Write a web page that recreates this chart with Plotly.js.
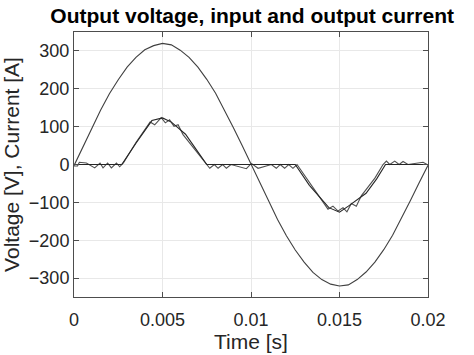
<!DOCTYPE html>
<html>
<head>
<meta charset="utf-8">
<script src="https://cdn.plot.ly/plotly-3.0.1.min.js"></script>
<style>html,body{margin:0;padding:0;background:#fff;}#chart{width:474px;height:355px;}</style>
</head>
<body>
<div id="chart"></div>
<script>
// Output voltage
const tV = [0,0.0005,0.001,0.0015,0.002,0.0025,0.003,0.0035,0.004,0.0045,0.005,0.0055,0.006,0.0065,0.007,0.0075,0.008,0.0085,0.009,0.0095,0.01,
            0.0105,0.011,0.0115,0.012,0.0125,0.013,0.0135,0.014,0.0145,0.015,0.0155,0.016,0.0165,0.017,0.0175,0.018,0.0185,0.019,0.0195,0.02];
const vOut = [-3,46,96,143,187,224,257,283,303,314,320,316,302,283,257,225,188,145,98,50,2,
              -47,-97,-145,-188,-226,-258,-285,-304,-316,-321,-318,-304,-284,-258,-225,-187,-143,-96,-48,-2];

// Input current (with ripple)
const tIin = [0,0.0002,0.0003,0.0007,0.00117,0.00147,0.00164,0.0019,0.00211,0.0024,0.00258,0.0028,
              0.0035,0.0043,0.00456,0.00493,0.00516,0.0054,0.00565,0.00588,0.00616,0.0069,0.0075,
              0.00767,0.00793,0.00814,0.0084,0.00861,0.00887,0.00974,0.01002,0.0104,0.01115,
              0.01143,0.01165,0.0119,0.01213,0.01237,0.0126,
              0.0135,0.01435,0.01463,0.01492,0.0152,0.01542,0.01567,0.01595,0.01624,0.0170,0.01746,
              0.01765,0.01784,0.01812,0.01837,0.01859,0.01887,0.01972,0.01995,0.02];
const iIn = [-4,-4,6,4,-9,4,-9,4,-9,4,-6,5,
             58,112,105,124,110,118,101,105,79,36,-2,
             -10,0,-10,0,-10,0,-11,3,-10,0,
             -10,0,-10,0,-10,0,
             -60,-118,-110,-123,-114,-125,-103,-110,-82,-36,0,
             9,0,9,0,8,0,6,0,0];

// Output current
const tIout = [0,0.0027,0.0035,0.0044,0.005,0.0055,0.0058,0.0063,0.0069,0.0075,0.0125,0.0133,0.0144,0.015,0.0155,0.0158,0.0165,0.0171,0.0176,0.02];
const iOut = [0,0,56,116,123,112,100,80,40,0,0,-55,-114,-126,-110,-100,-76,-38,0,0];

const xTicks = [0,0.005,0.01,0.015,0.02];
const xTickText = ['0','0.005','0.01','0.015','0.02'];
const yTicks = [-300,-200,-100,0,100,200,300];

const traces = [
  {x:tV, y:vOut, mode:'lines', line:{color:'#404040', width:1.1}, name:'Output voltage'},
  {x:tIin, y:iIn, mode:'lines', line:{color:'#505050', width:1.1}, name:'Input current'},
  {x:tIout, y:iOut, mode:'lines', line:{color:'#262626', width:1.1}, name:'Output current'}
];

const axisCommon = {
  showline:true, mirror:'ticks', linecolor:'#4d4d4d', linewidth:1,
  ticks:'inside', ticklen:5, tickcolor:'#4d4d4d', tickwidth:1,
  showgrid:true, gridcolor:'#e8e8e8', gridwidth:1, zeroline:false,
  tickfont:{size:18, color:'#262626'}
};

const layout = {
  width:474, height:355,
  margin:{l:74, r:46, t:32, b:58, pad:0},
  paper_bgcolor:'#ffffff', plot_bgcolor:'#ffffff',
  font:{family:'Liberation Sans, Arial, sans-serif', color:'#262626'},
  showlegend:false,
  title:{text:'<b>Output voltage, input and output current</b>', font:{size:21, color:'#000000'}, x:0.532, xanchor:'center', y:0.955, yanchor:'middle'},
  xaxis:Object.assign({}, axisCommon, {range:[0,0.02], tickvals:xTicks, ticktext:xTickText, ticklabelstandoff:6,
    title:{text:'Time [s]', font:{size:21, color:'#262626'}, standoff:4}}),
  yaxis:Object.assign({}, axisCommon, {range:[-350,350], tickvals:yTicks,
    title:{text:'Voltage [V], Current [A]', font:{size:21, color:'#262626'}, standoff:4}})
};

Plotly.newPlot('chart', traces, layout, {displayModeBar:false, staticPlot:true});
</script>
</body>
</html>
